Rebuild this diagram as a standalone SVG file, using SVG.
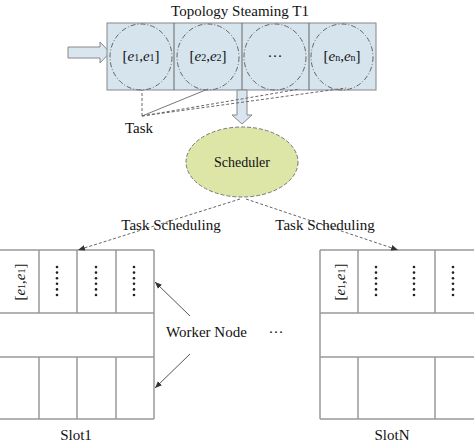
<svg xmlns="http://www.w3.org/2000/svg" width="474" height="444" viewBox="0 0 474 444" font-family="'Liberation Serif', 'Times New Roman', serif">
<defs>
<style>
text{font-family:'Liberation Serif','Times New Roman',serif;fill:#111;}
.t15{font-size:15px;}
.lbl{font-size:15px;}
.it{font-style:italic;}
.grid{stroke:#999;stroke-width:1.5;fill:none;}
.cell{stroke:#666;stroke-width:1;}
.circ{fill:none;stroke:#666;stroke-width:1;stroke-dasharray:5 2 1 2;}
.dot{fill:#222;}
.blk{fill:#d9e6f0;stroke:#888;stroke-width:1;}
.tl{stroke:#777;stroke-width:1;fill:none;}
.dl{stroke:#666;stroke-width:1;stroke-dasharray:3 2;fill:none;}
.sch{stroke:#555;stroke-width:0.9;stroke-dasharray:3 2;fill:none;}
.wk{stroke:#555;stroke-width:1;fill:none;}
</style>
<marker id="ah" viewBox="0 0 10 10" refX="10" refY="5" markerWidth="7" markerHeight="7" orient="auto" markerUnits="userSpaceOnUse">
<path d="M0,1 L10,5 L0,9 Z" fill="#333"/>
</marker>
</defs>

<g id="title"><text class="t15" x="240" y="16" text-anchor="middle" font-family="'Liberation Serif', serif">Topology Steaming T1</text></g>

<g id="input-arrow">
<path class="blk" d="M68,47 L100,47 L100,42 L110,52.5 L100,63 L100,58 L68,58 Z"/>
</g>

<g id="topology">
<rect x="107" y="23" width="269" height="67" fill="#d6e4ee" stroke="#888" stroke-width="1"/>
<line class="cell" x1="174" y1="23" x2="174" y2="90"/>
<line class="cell" x1="242" y1="23" x2="242" y2="90"/>
<line class="cell" x1="309" y1="23" x2="309" y2="90"/>
<ellipse class="circ" cx="141" cy="57" rx="31" ry="33"/>
<ellipse class="circ" cx="208" cy="57" rx="31" ry="33"/>
<ellipse class="circ" cx="275" cy="57" rx="31" ry="33"/>
<ellipse class="circ" cx="342" cy="57" rx="31" ry="33"/>
<text class="lbl" x="141" y="61" text-anchor="middle" font-size="16">[<tspan class="it">e</tspan><tspan font-size="10">1</tspan>,<tspan class="it">e</tspan><tspan font-size="10">1</tspan>]</text>
<text class="lbl" x="208" y="61" text-anchor="middle" font-size="16">[<tspan class="it">e</tspan><tspan font-size="10">2</tspan>,<tspan class="it">e</tspan><tspan font-size="10">2</tspan>]</text>
<text class="lbl" x="275" y="61" text-anchor="middle">···</text>
<text class="lbl" x="342" y="61" text-anchor="middle">[<tspan class="it">e</tspan><tspan font-size="10">n</tspan>,<tspan class="it">e</tspan><tspan font-size="10">n</tspan>]</text>
</g>

<g id="task">
<text class="t15" x="125" y="133">Task</text>
</g>

<g id="down-arrow">
<path class="blk" d="M237,90 L247,90 L247,115 L252,115 L242,124 L232,115 L237,115 Z"/>
</g>

<g id="scheduler">
<ellipse cx="242" cy="162" rx="56" ry="35" fill="#dde5a7" stroke="#777" stroke-width="1" stroke-dasharray="4 2"/>
<text x="242" y="167" text-anchor="middle" font-size="14">Scheduler</text>
</g>

<g id="slot1">
<line class="grid" x1="0" y1="250" x2="154" y2="250"/>
<line class="grid" x1="0" y1="313" x2="154" y2="313"/>
<line class="grid" x1="0" y1="357" x2="154" y2="357"/>
<line class="grid" x1="0" y1="419" x2="154" y2="419"/>
<line class="grid" x1="154" y1="250" x2="154" y2="419"/>
<path class="grid" d="M39,250 V313 M77,250 V313 M116,250 V313 M39,357 V419 M77,357 V419 M116,357 V419"/>
<text class="lbl" transform="translate(25,282) rotate(-90)" text-anchor="middle">[<tspan class="it">e</tspan><tspan font-size="10">1</tspan>,<tspan class="it">e</tspan><tspan font-size="10">1</tspan>]</text>
<g class="dot">
<circle cx="57" cy="267" r="1.3"/><circle cx="57" cy="272.6" r="1.3"/><circle cx="57" cy="278.2" r="1.3"/><circle cx="57" cy="283.8" r="1.3"/><circle cx="57" cy="289.4" r="1.3"/><circle cx="57" cy="295" r="1.3"/>
<circle cx="96" cy="267" r="1.3"/><circle cx="96" cy="272.6" r="1.3"/><circle cx="96" cy="278.2" r="1.3"/><circle cx="96" cy="283.8" r="1.3"/><circle cx="96" cy="289.4" r="1.3"/><circle cx="96" cy="295" r="1.3"/>
<circle cx="134" cy="267" r="1.3"/><circle cx="134" cy="272.6" r="1.3"/><circle cx="134" cy="278.2" r="1.3"/><circle cx="134" cy="283.8" r="1.3"/><circle cx="134" cy="289.4" r="1.3"/><circle cx="134" cy="295" r="1.3"/>
</g>
<text class="t15" x="76" y="440" text-anchor="middle">Slot1</text>
</g>

<g id="slotN">
<line class="grid" x1="320" y1="250" x2="474" y2="250"/>
<line class="grid" x1="320" y1="313" x2="474" y2="313"/>
<line class="grid" x1="320" y1="357" x2="474" y2="357"/>
<line class="grid" x1="320" y1="419" x2="474" y2="419"/>
<line class="grid" x1="320" y1="250" x2="320" y2="419"/>
<path class="grid" d="M358,250 V313 M435,250 V313 M358,357 V419 M435,357 V419"/>
<text class="lbl" transform="translate(345,282) rotate(-90)" text-anchor="middle">[<tspan class="it">e</tspan><tspan font-size="10">1</tspan>,<tspan class="it">e</tspan><tspan font-size="10">1</tspan>]</text>
<g class="dot">
<circle cx="376" cy="267" r="1.3"/><circle cx="376" cy="272.6" r="1.3"/><circle cx="376" cy="278.2" r="1.3"/><circle cx="376" cy="283.8" r="1.3"/><circle cx="376" cy="289.4" r="1.3"/><circle cx="376" cy="295" r="1.3"/>
<circle cx="414" cy="267" r="1.3"/><circle cx="414" cy="272.6" r="1.3"/><circle cx="414" cy="278.2" r="1.3"/><circle cx="414" cy="283.8" r="1.3"/><circle cx="414" cy="289.4" r="1.3"/><circle cx="414" cy="295" r="1.3"/>
<circle cx="453" cy="267" r="1.3"/><circle cx="453" cy="272.6" r="1.3"/><circle cx="453" cy="278.2" r="1.3"/><circle cx="453" cy="283.8" r="1.3"/><circle cx="453" cy="289.4" r="1.3"/><circle cx="453" cy="295" r="1.3"/>
</g>
<text class="t15" x="392" y="440" text-anchor="middle">SlotN</text>
</g>

<g id="worker-node">
<text class="t15" x="166" y="337">Worker Node</text>
<text class="t15" x="276" y="337" text-anchor="middle">···</text>
</g>

<g id="connectors">
<line class="dl" x1="142" y1="116" x2="142" y2="90"/>
<line class="tl" x1="142" y1="116" x2="208" y2="89"/>
<line class="dl" x1="142" y1="116" x2="300" y2="89"/>
<line class="dl" x1="142" y1="116" x2="346" y2="88"/>
<line class="sch" x1="240" y1="199" x2="78" y2="250" marker-end="url(#ah)"/>
<line class="sch" x1="246" y1="199" x2="398" y2="250" marker-end="url(#ah)"/>
<line class="wk" x1="190" y1="316" x2="155" y2="282" marker-end="url(#ah)"/>
<line class="wk" x1="190" y1="354" x2="155" y2="388" marker-end="url(#ah)"/>
</g>
<g id="labels">
<text class="t15" x="171" y="230" text-anchor="middle">Task Scheduling</text>
<text class="t15" x="325" y="230" text-anchor="middle">Task Scheduling</text>
</g>
</svg>
